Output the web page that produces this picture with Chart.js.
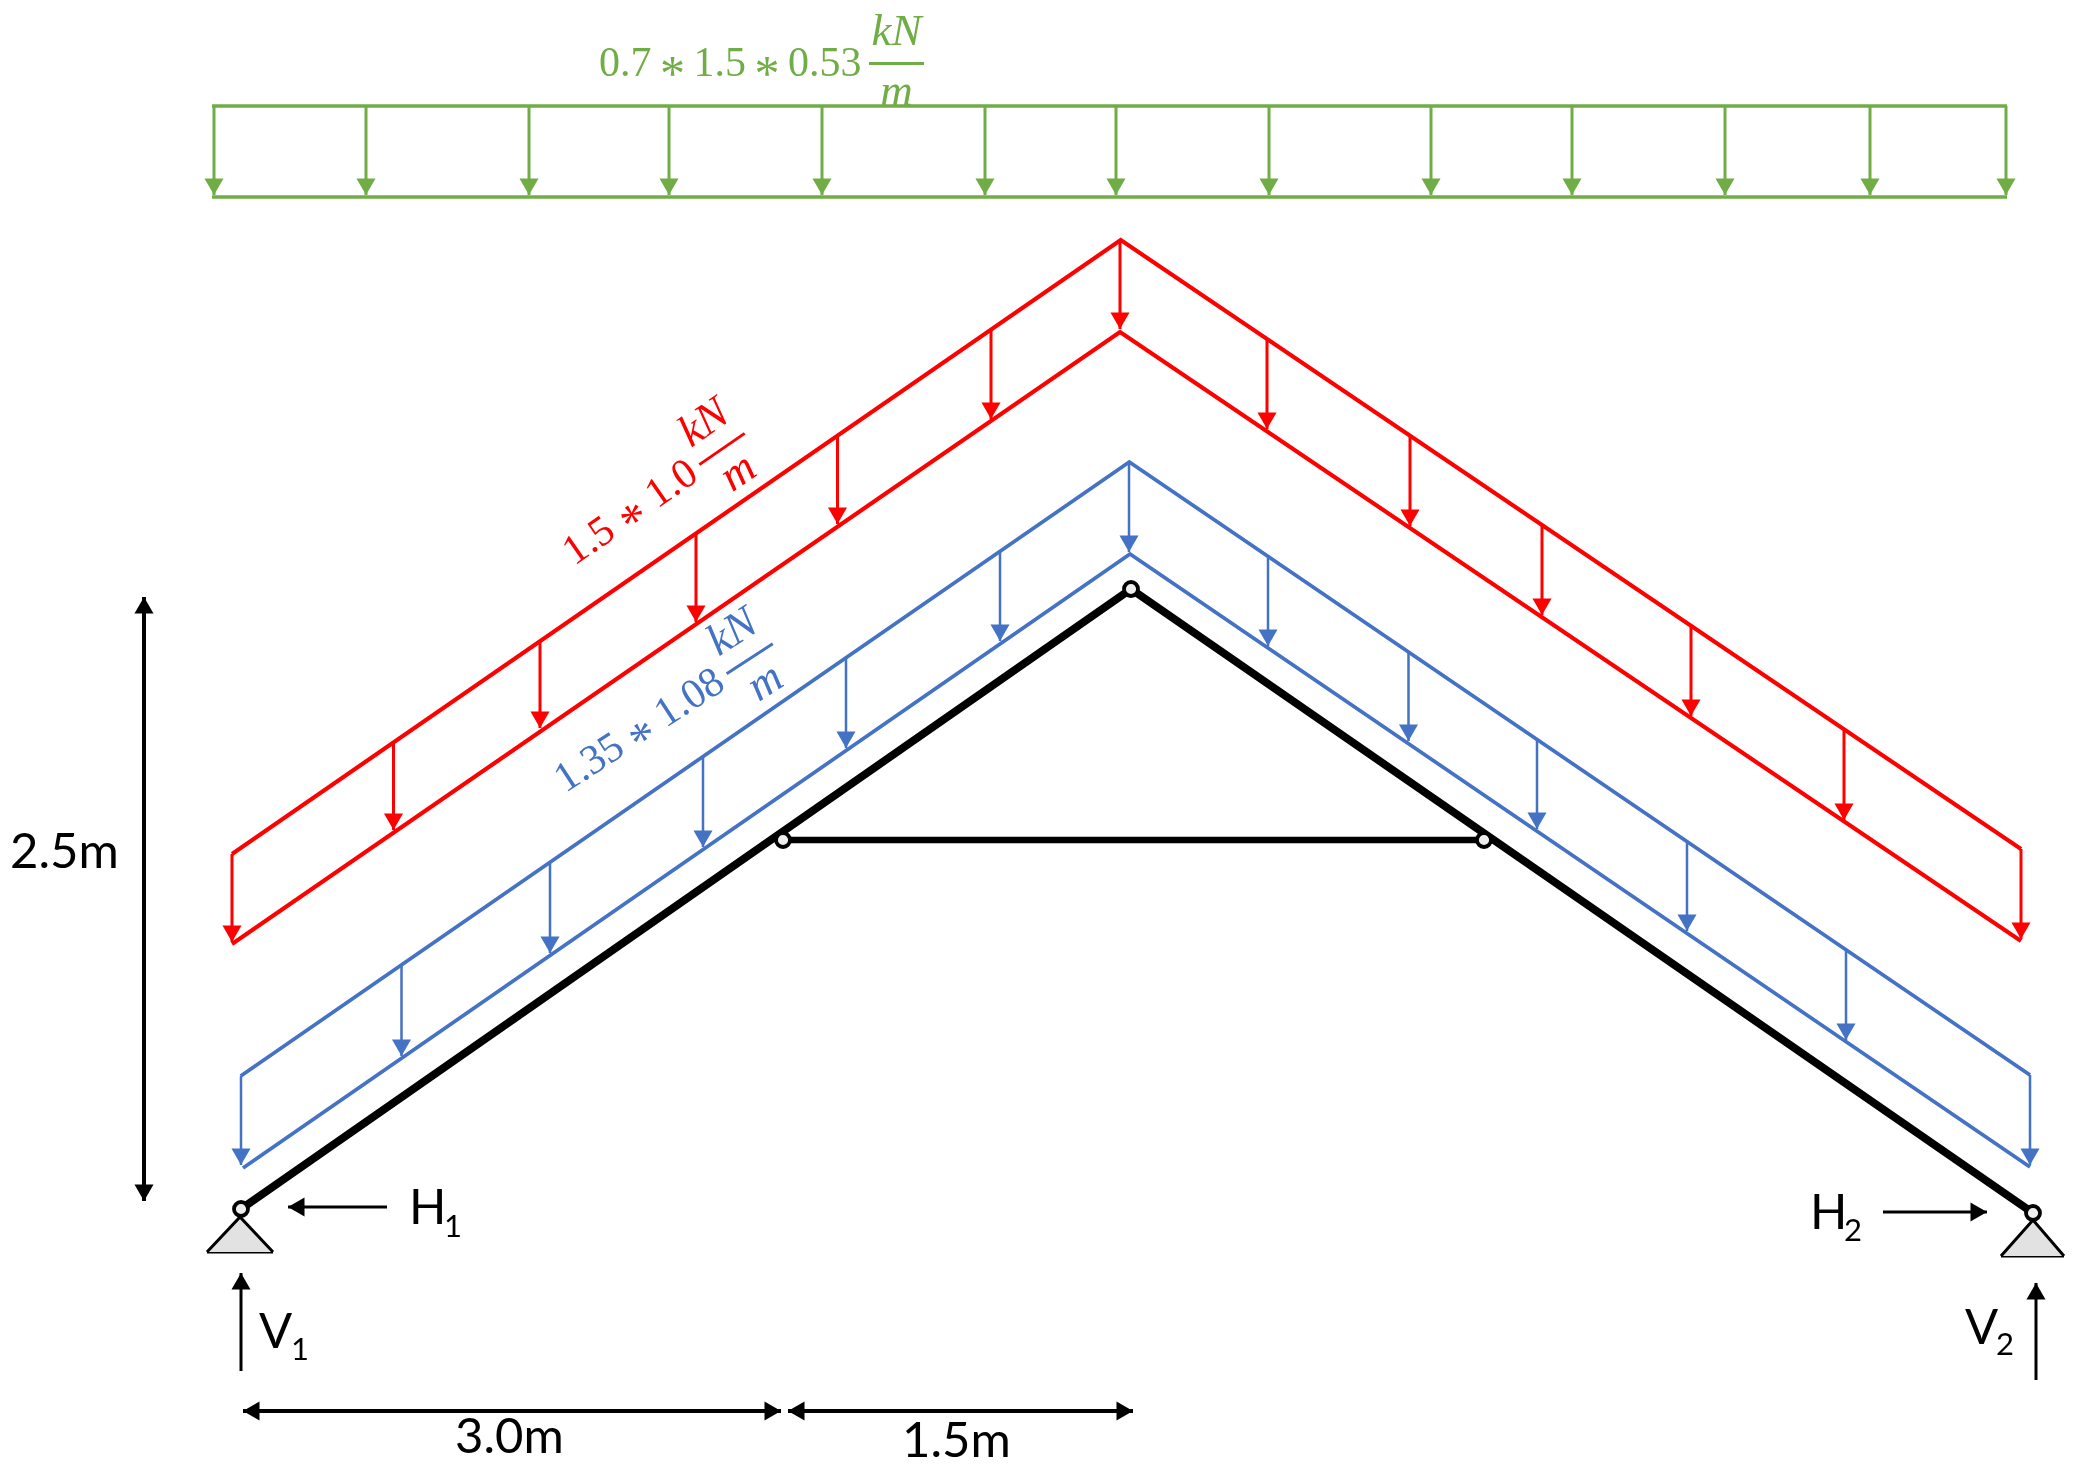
<!DOCTYPE html>
<html>
<head>
<meta charset="utf-8">
<style>html,body{margin:0;padding:0;background:#fff}canvas{display:block}</style>
<script src="https://cdn.jsdelivr.net/npm/chart.js@4"></script>
</head>
<body>
<canvas id="c" width="2078" height="1470" style="width:2078px;height:1470px"></canvas>
<script>
// ---- values (figure units) ----
const greenArrowX = [214, 366, 529, 669, 822, 985, 1116, 1269, 1431, 1572, 1725, 1870, 2006];
const greenTopY = [106, 106];
const greenBottomY = [197, 197];
const greenEndX = [212, 2007];

const redTopX = [232, 1120.7, 2021];
const redTopY = [854, 240, 849];
const redLowX = [232, 1120, 2021];
const redLowY = [944, 332, 941];
const redArrowX = [232, 393.5, 540, 696, 837.5, 991, 1120, 1267, 1410, 1542, 1691, 1844, 2021];
const redArrowTop = [854, 741, 641, 534, 437, 329, 240, 339, 435, 525, 625, 729, 849];
const redArrowTip = [942, 830, 728, 622, 524, 419, 329, 429, 526, 615, 716, 820, 939];

const blueTopX = [240.7, 1129.3, 2030];
const blueTopY = [1076, 462, 1075];
const blueLowX = [243, 1130, 2030];
const blueLowY = [1168, 554, 1167];
const blueArrowX = [241, 401.5, 550, 703, 846, 1000, 1129, 1268, 1408.5, 1537, 1687, 1846, 2030];
const blueArrowTop = [1076, 965, 862, 756, 657, 551, 462, 556, 651, 739, 841, 950, 1075];
const blueArrowTip = [1165, 1056, 953, 847, 748, 641, 552, 646, 741, 829, 931, 1040, 1165];

const beamX = [241, 1131, 2033];
const beamY = [1209, 589, 1213];
const tieX = [783, 1484];
const tieY = [840, 840];
const hingeX = [241, 783, 1131, 1484, 2033];
const hingeY = [1209, 840, 589, 840, 1213];
const supportLeftX = [207, 240, 273];
const supportLeftY = [1252, 1217, 1252];
const supportRightX = [2001, 2033, 2064];
const supportRightY = [1256, 1220, 1256];

const forces = [
  {name: 'dimV', x: [144, 144], y: [597, 1201], heads: 'both', w: 4},
  {name: 'H1',   x: [387, 288], y: [1207, 1207], heads: 'end', w: 3},
  {name: 'V1',   x: [241, 241], y: [1371, 1273], heads: 'end', w: 3},
  {name: 'H2',   x: [1883, 1987], y: [1212, 1212], heads: 'end', w: 3},
  {name: 'V2',   x: [2036, 2036], y: [1380, 1283], heads: 'end', w: 3},
  {name: 'dim3', x: [243, 781], y: [1411, 1411], heads: 'both', w: 4},
  {name: 'dim15', x: [788, 1133], y: [1411, 1411], heads: 'both', w: 4}
];

const plainLabels = [
  {t: '2.5m', x: 10, y: 868},
  {t: '3.0m', x: 455, y: 1453},
  {t: '1.5m', x: 902, y: 1457}
];
const subLabels = [
  {t: 'H', s: '1', x: 409, y: 1224, sx: 444, sy: 1237},
  {t: 'V', s: '1', x: 259, y: 1348, sx: 291, sy: 1360},
  {t: 'H', s: '2', x: 1810, y: 1229, sx: 1844, sy: 1241},
  {t: 'V', s: '2', x: 1965, y: 1344, sx: 1996, sy: 1355}
];
const GREEN = '#70AD47', RED = '#FF0000', BLUE = '#4472C4';
const fracLabels = [
  {terms: ['0.7', '1.5', '0.53'], gap: 42, num: 'kN', den: 'm', c: GREEN, x: 896.5, y: 63.5, a: 0},
  {terms: ['1.5', '1.0'], gap: 48, num: 'kN', den: 'm', c: RED, x: 722, y: 449, a: -34.6},
  {terms: ['1.35', '1.08'], gap: 46, num: 'kN', den: 'm', c: BLUE, x: 749.7, y: 658.7, a: -33}
];

// ---- build datasets ----
const HEAD = 11;
const zip = (xs, ys) => xs.map((x, i) => ({x, y: ys[i]}));
const line = (xs, ys, color, w, extra) => Object.assign({
  data: zip(xs, ys), borderColor: color, borderWidth: w, pointRadius: 0,
  showLine: true, tension: 0, borderJoinStyle: 'miter', fill: false, clip: false
}, extra || {});
const heads = (pts, color, rot) => ({
  data: pts, showLine: false, pointStyle: 'triangle', pointRadius: HEAD, pointRotation: rot,
  pointBackgroundColor: color, pointBorderWidth: 0, pointBorderColor: color, clip: false
});

const datasets = [];
datasets.push({
  data: zip(hingeX, hingeY), showLine: false, pointStyle: 'circle', pointRadius: 7,
  pointBackgroundColor: '#eeeeee', pointBorderColor: '#000', pointBorderWidth: 3.8, clip: false
});
datasets.push(line(beamX, beamY, '#000', 8));
datasets.push(line(tieX, tieY, '#000', 6.5));
datasets.push(line(supportLeftX, supportLeftY, '#000', 3, {fill: {value: supportLeftY[0]}, backgroundColor: '#E2E2E2'}));
datasets.push(line([supportLeftX[0], supportLeftX[2]], [supportLeftY[0], supportLeftY[2]], '#000', 3));
datasets.push(line(supportRightX, supportRightY, '#000', 3, {fill: {value: supportRightY[0]}, backgroundColor: '#E2E2E2'}));
datasets.push(line([supportRightX[0], supportRightX[2]], [supportRightY[0], supportRightY[2]], '#000', 3));

// green load
datasets.push(line(greenEndX, greenTopY, GREEN, 3.5));
datasets.push(line(greenEndX, greenBottomY, GREEN, 3.5));
greenArrowX.forEach(x => datasets.push(line([x, x], [greenTopY[0], greenBottomY[0] - 2], GREEN, 3)));
datasets.push(heads(greenArrowX.map(x => ({x, y: greenBottomY[0] - 2 - HEAD})), GREEN, 180));

// red load
datasets.push(line(redTopX, redTopY, RED, 4));
datasets.push(line(redLowX, redLowY, RED, 4));
redArrowX.forEach((x, i) => datasets.push(line([x, x], [redArrowTop[i], redArrowTip[i]], RED, 3)));
datasets.push(heads(redArrowX.map((x, i) => ({x, y: redArrowTip[i] - HEAD})), RED, 180));

// blue load
datasets.push(line(blueTopX, blueTopY, BLUE, 3.8));
datasets.push(line(blueLowX, blueLowY, BLUE, 3.8));
blueArrowX.forEach((x, i) => datasets.push(line([x, x], [blueArrowTop[i], blueArrowTip[i]], BLUE, 2.5)));
datasets.push(heads(blueArrowX.map((x, i) => ({x, y: blueArrowTip[i] - HEAD})), BLUE, 180));

// black arrows
forces.forEach(f => {
  const dx = Math.sign(f.x[1] - f.x[0]), dy = Math.sign(f.y[1] - f.y[0]);
  const rotEnd = dx > 0 ? 90 : dx < 0 ? 270 : dy > 0 ? 180 : 0;
  datasets.push(line(f.x, f.y, '#000', f.w));
  datasets.push(heads([{x: f.x[1] - dx * HEAD, y: f.y[1] - dy * HEAD}], '#000', rotEnd));
  if (f.heads === 'both') {
    datasets.push(heads([{x: f.x[0] + dx * HEAD, y: f.y[0] + dy * HEAD}], '#000', (rotEnd + 180) % 360));
  }
});

// ---- text ----
const textPlugin = {
  id: 'figureText',
  afterDatasetsDraw(chart) {
    const {ctx, scales: {x: sx, y: sy}} = chart;
    ctx.save();
    ctx.textBaseline = 'alphabetic';
    ctx.fillStyle = '#000';
    ctx.textAlign = 'left';
    const SANS = 'Lato, "Open Sans", sans-serif';
    const SERIF = '"Liberation Serif", serif';
    plainLabels.forEach(l => {
      ctx.font = '49px ' + SANS;
      ctx.fillText(l.t, sx.getPixelForValue(l.x), sy.getPixelForValue(l.y));
    });
    subLabels.forEach(l => {
      ctx.font = '49px ' + SANS;
      ctx.fillText(l.t, sx.getPixelForValue(l.x), sy.getPixelForValue(l.y));
      ctx.font = '31px ' + SANS;
      ctx.fillText(l.s, sx.getPixelForValue(l.sx), sy.getPixelForValue(l.sy));
    });
    fracLabels.forEach(l => {
      ctx.save();
      ctx.translate(sx.getPixelForValue(l.x), sy.getPixelForValue(l.y));
      ctx.rotate(l.a * Math.PI / 180);
      ctx.fillStyle = l.c;
      ctx.strokeStyle = l.c;
      ctx.lineWidth = 3;
      ctx.beginPath(); ctx.moveTo(-27.5, 0); ctx.lineTo(27.5, 0); ctx.stroke();
      let right = -35;
      for (let i = l.terms.length - 1; i >= 0; i--) {
        ctx.font = '42px ' + SERIF;
        ctx.textAlign = 'right';
        ctx.fillText(l.terms[i], right, 12.5);
        right -= ctx.measureText(l.terms[i]).width;
        if (i > 0) {
          ctx.font = '50px ' + SERIF;
          ctx.textAlign = 'center';
          ctx.fillText('*', right - l.gap / 2, 26);
          right -= l.gap;
        }
      }
      ctx.textAlign = 'center';
      ctx.font = 'italic 45px ' + SERIF;
      ctx.fillText(l.num, 0, -18.5);
      ctx.fillText(l.den, 0, 41.5);
      ctx.restore();
    });
    ctx.restore();
  }
};

new Chart(document.getElementById('c'), {
  type: 'scatter',
  data: {datasets},
  options: {
    responsive: false,
    devicePixelRatio: 1,
    animation: false,
    layout: {padding: 0, autoPadding: false},
    events: [],
    plugins: {legend: {display: false}, tooltip: {enabled: false}, title: {display: false}},
    scales: {
      x: {type: 'linear', min: 0, max: 2078, display: false},
      y: {type: 'linear', min: 0, max: 1470, reverse: true, display: false}
    }
  },
  plugins: [textPlugin]
});
</script>
</body>
</html>
